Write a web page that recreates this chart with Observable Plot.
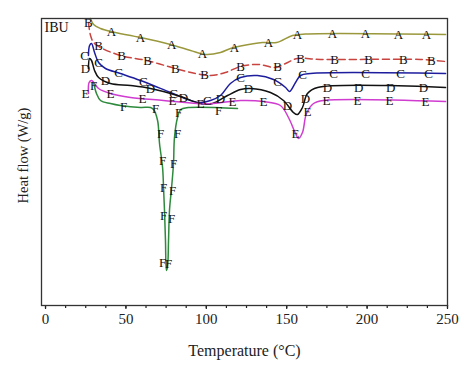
<!DOCTYPE html>
<html>
<head>
<meta charset="utf-8">
<script src="https://cdn.jsdelivr.net/npm/d3@7"></script>
<script src="https://cdn.jsdelivr.net/npm/@observablehq/plot@0.6"></script>
<style>
  html, body { margin: 0; padding: 0; background: #fff; }
</style>
</head>
<body>
<div id="chart"></div>
<script>
// ---- Data (temperature °C, heat flow in arbitrary units) ----
const xTicks = [0, 50, 100, 150, 200, 250];
const minorTicks = [0, 12.5, 25, 37.5, 50, 62.5, 75, 87.5, 100, 112.5, 125, 137.5, 150, 162.5, 175, 187.5, 200, 212.5, 225, 237.5, 250];

const curveA = [[28.0,28.7],[29.9,28.1],[34.2,27.7],[40.4,27.4],[59.1,26.8],[77.7,26.1],[90.2,25.5],[99.5,25.1],[108.8,25.3],[115.0,25.7],[121.3,25.95],[135.0,26.3],[143.7,26.3],[153.6,27.0],[161.7,27.15],[248.8,27.1]];
const curveB = [[26.7,28.3],[28.0,27.0],[29.9,26.3],[34.2,25.8],[46.6,25.0],[62.8,24.5],[80.8,23.7],[93.3,23.2],[102.6,23.0],[111.9,23.3],[121.3,23.9],[132.5,24.1],[143.0,23.8],[149.3,24.2],[156.7,24.7],[171.0,24.6],[233.2,24.6],[248.8,24.4]];
const curveC = [[26.7,25.0],[27.4,26.0],[28.6,26.2],[30.5,25.3],[33.0,24.3],[37.3,23.7],[46.6,23.2],[59.1,22.5],[77.7,21.3],[90.2,20.5],[96.4,20.3],[102.6,20.5],[108.8,21.0],[115.0,22.2],[121.3,22.8],[131.8,23.0],[141.8,22.6],[149.3,21.8],[151.7,21.4],[155.5,22.3],[158.6,23.0],[164.8,23.2],[248.8,23.2]];
const curveD = [[26.7,23.7],[27.4,24.7],[28.6,24.5],[30.5,23.5],[33.0,22.8],[40.4,22.2],[52.9,22.0],[65.3,21.7],[84.0,20.9],[96.4,20.2],[103.9,20.2],[113.2,21.0],[121.3,21.6],[127.5,21.7],[139.9,21.3],[148.0,20.5],[154.2,19.3],[156.7,19.1],[159.8,19.8],[162.9,21.2],[169.2,21.8],[248.8,21.8]];
const curveE = [[26.7,21.2],[27.1,22.3],[28.6,22.5],[30.5,22.2],[33.0,21.7],[40.4,21.2],[52.9,20.8],[73.4,20.5],[94.5,20.2],[104.5,20.2],[121.3,20.5],[135.6,20.4],[146.1,20.0],[151.1,18.8],[155.5,17.2],[157.3,16.7],[159.8,17.3],[162.3,19.2],[166.7,20.2],[172.9,20.5],[248.8,20.4]];
const curveF = [[29.9,22.3],[31.7,21.2],[34.2,20.5],[40.4,20.2],[46.6,20.0],[59.1,19.8],[65.3,19.8],[67.2,19.6],[69.7,18.5],[70.9,16.2],[72.8,13.8],[73.4,11.8],[74.0,9.5],[74.6,6.5],[75.2,3.5],[75.9,3.9],[76.5,6.5],[77.1,9.5],[78.4,11.8],[79.6,14.2],[80.2,16.8],[82.1,18.8],[84.0,19.6],[88.9,19.8],[119.4,19.7]];

// letter marker positions along each curve (temperature)
const marksA = [41.0, 59.1, 78.4, 97.6, 117.5, 138.7, 156.7, 178.5, 199.0, 219.5, 236.9];
const marksB = [26.7, 33.0, 47.3, 63.4, 80.8, 98.9, 121.3, 144.3, 158.6, 179.7, 200.9, 222.6, 240.0];
const marksC = [24.3, 33.0, 45.4, 60.9, 79.6, 100.7, 121.3, 144.3, 159.8, 179.1, 199.0, 220.8, 238.2];
const marksD = [24.9, 37.3, 65.3, 85.8, 108.8, 126.2, 150.5, 161.7, 175.4, 194.7, 214.6, 235.1];
const marksE = [24.9, 40.4, 60.3, 79.0, 96.4, 116.3, 135.6, 155.5, 162.9, 174.8, 194.0, 213.9, 236.3];
const marksF = [[29.9,22.0],[48.5,19.9],[68.4,19.7],[71.5,17.2],[72.8,14.5],[73.4,11.8],[73.4,9.0],[72.8,4.3],[76.5,4.2],[78.4,8.7],[79.0,11.5],[79.6,14.2],[82.1,17.2],[82.7,19.3],[107.6,19.5]];

const seriesNames = ["A", "B", "C", "D", "E", "F"];
const seriesColors = ["#9a983c", "#c9433f", "#1d1d9e", "#111111", "#d03ccf", "#2e8a3c"];

const xTitle = "Temperature (°C)";
const yTitle = "Heat flow (W/g)";
const sampleTag = "IBU";

// ---- build tables ----
const curves = [curveA, curveB, curveC, curveD, curveE, curveF];
const lineRows = curves.flatMap((c, i) => c.map(([t, h]) => ({series: seriesNames[i], t, h})));

function interp(curve, t) {
  if (t <= curve[0][0]) return curve[0][1];
  for (let k = 1; k < curve.length; k++) {
    if (t <= curve[k][0]) {
      const [t0, h0] = curve[k - 1], [t1, h1] = curve[k];
      return h0 + (h1 - h0) * (t - t0) / (t1 - t0);
    }
  }
  return curve[curve.length - 1][1];
}
const letterRows = [];
[marksA, marksB, marksC, marksD, marksE].forEach((ms, i) => {
  ms.forEach(t => letterRows.push({letter: seriesNames[i], t, h: interp(curves[i], t)}));
});
marksF.forEach(([t, h]) => letterRows.push({letter: "F", t, h}));

const lineMarks = seriesNames.map((s, i) =>
  Plot.line(lineRows.filter(d => d.series === s), {
    x: "t", y: "h", stroke: seriesColors[i], strokeWidth: 1.5,
    curve: "catmull-rom",
    strokeDasharray: s === "B" ? "7,4" : null
  })
);

const yDomain = [0, 28.7];
const xDomain = [-2.5, 250];

const chart = Plot.plot({
  width: 474,
  height: 376,
  marginTop: 18,
  marginRight: 27,
  marginBottom: 71,
  marginLeft: 41,
  style: {fontFamily: "'Liberation Serif', 'DejaVu Serif', serif", fontSize: "15px", background: "#fff", color: "#222"},
  x: {domain: xDomain},
  y: {domain: yDomain, axis: null},
  marks: [
    Plot.axisX(minorTicks, {tickSize: 3, tickFormat: () => "", label: null, strokeWidth: 1.2}),
    Plot.axisX(xTicks, {tickSize: 4, tickPadding: 4, label: null, fontSize: 15, strokeWidth: 1.2}),
    ...lineMarks,
    Plot.text(letterRows, {x: "t", y: "h", text: "letter", fill: "#111", fontSize: 13}),
    Plot.text([sampleTag], {frameAnchor: "top-left", textAnchor: "start", lineAnchor: "top", dx: 3, dy: 4, fontSize: 14, fill: "#111"}),
    Plot.text([xTitle], {frameAnchor: "bottom", lineAnchor: "middle", dy: 45, fontSize: 16, fill: "#222"}),
    Plot.text([{t: xDomain[0], h: 15.0}], {x: "t", y: "h", text: () => yTitle, rotate: -90, dx: -18, fontSize: 14.5, fill: "#222"}),
    Plot.frame({stroke: "#333", strokeWidth: 1.3})
  ]
});
document.getElementById("chart").appendChild(chart);
</script>
</body>
</html>
